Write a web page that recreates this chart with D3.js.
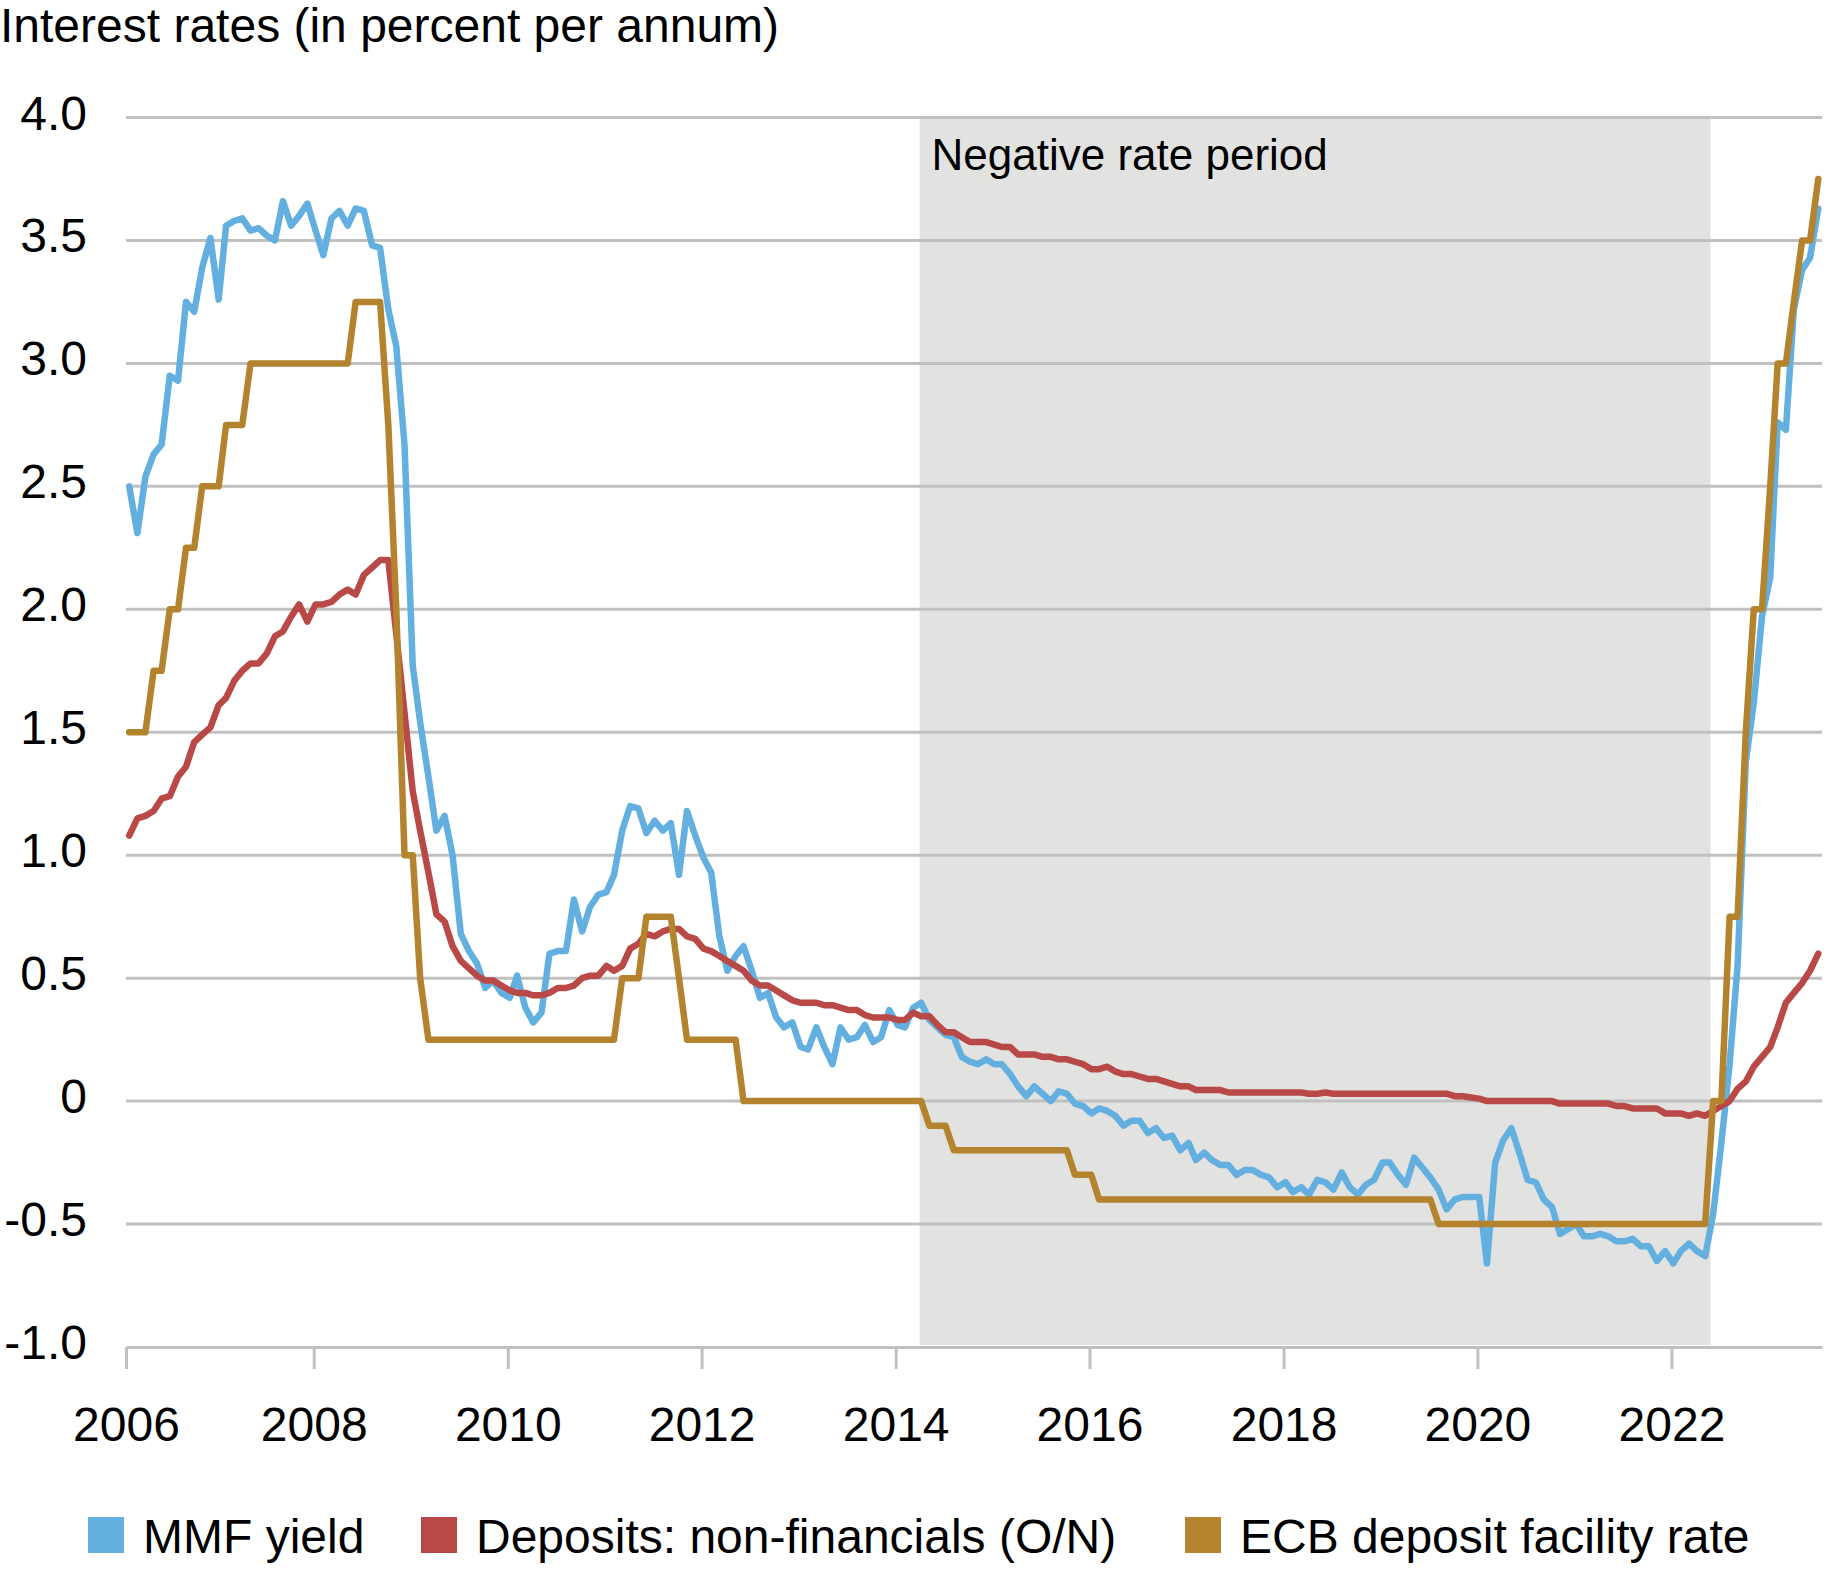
<!DOCTYPE html>
<html lang="en">

  <head>
    <meta charset="UTF-8">
    <title>Interest rates</title>
    <style>
      body {
        margin: 0;
        background-color: white;
      }

      text {
        font-family: "Liberation Sans", Arial, sans-serif;
        fill: black;
      }
    </style>
  </head>

  <body>
    <div id="my-div"></div>
    <script src="https://d3js.org/d3.v7.min.js"></script>
    <script>

      // monthly observations, March 2006 to August 2023
      var firstMonth = new Date(2006, 2, 1);
      var lastMonth = new Date(2023, 7, 1);

      // MMF yield, one row per calendar year
      var mmfYield = [
        2.50, 2.31, 2.54, 2.63, 2.67, 2.95, 2.93, 3.25, 3.21, 3.39,
        3.51, 3.26, 3.56, 3.58, 3.59, 3.54, 3.55, 3.52, 3.50, 3.66, 3.56, 3.60,
        3.65, 3.54, 3.44, 3.59, 3.62, 3.56, 3.63, 3.62, 3.48, 3.47, 3.22, 3.07,
        2.67, 1.77, 1.54, 1.32, 1.10, 1.16, 1.00, 0.68, 0.61, 0.56, 0.46, 0.49,
        0.44, 0.42, 0.51, 0.38, 0.32, 0.36, 0.60, 0.61, 0.61, 0.82, 0.69, 0.79,
        0.84, 0.85, 0.92, 1.10, 1.20, 1.19, 1.09, 1.14, 1.10, 1.13, 0.92, 1.18,
        1.08, 0.99, 0.93, 0.67, 0.53, 0.59, 0.63, 0.53, 0.42, 0.44, 0.34, 0.30,
        0.32, 0.22, 0.21, 0.30, 0.22, 0.15, 0.30, 0.25, 0.26, 0.31, 0.24, 0.26,
        0.37, 0.31, 0.30, 0.38, 0.40, 0.33, 0.30, 0.27, 0.26, 0.18, 0.16, 0.15,
        0.17, 0.15, 0.15, 0.11, 0.06, 0.02, 0.06, 0.03, 0.00, 0.04, 0.03, -0.01,
        -0.02, -0.05, -0.03, -0.04, -0.06, -0.10, -0.08, -0.08, -0.13, -0.11, -0.15, -0.14,
        -0.20, -0.17, -0.24, -0.21, -0.24, -0.26, -0.26, -0.30, -0.28, -0.28, -0.30, -0.31,
        -0.35, -0.33, -0.37, -0.35, -0.38, -0.32, -0.33, -0.36, -0.29, -0.35, -0.38, -0.34,
        -0.32, -0.25, -0.25, -0.30, -0.34, -0.23, -0.27, -0.31, -0.36, -0.44, -0.40, -0.39,
        -0.39, -0.39, -0.66, -0.25, -0.16, -0.11, -0.21, -0.32, -0.33, -0.40, -0.43, -0.54,
        -0.52, -0.50, -0.55, -0.55, -0.54, -0.55, -0.57, -0.57, -0.56, -0.59, -0.59, -0.65,
        -0.61, -0.66, -0.61, -0.58, -0.61, -0.63, -0.46, -0.17, 0.15, 0.55, 1.38, 1.62,
        1.97, 2.13, 2.76, 2.73, 3.22, 3.38, 3.43, 3.63
      ];

      // overnight deposits of non-financial corporations
      var depositsNonFin = [
        1.08, 1.15, 1.16, 1.18, 1.23, 1.24, 1.32, 1.36, 1.46, 1.49,
        1.52, 1.61, 1.64, 1.71, 1.75, 1.78, 1.78, 1.82, 1.89, 1.91, 1.97, 2.02,
        1.95, 2.02, 2.02, 2.03, 2.06, 2.08, 2.06, 2.14, 2.17, 2.20, 2.20, 1.90,
        1.58, 1.26, 1.10, 0.93, 0.76, 0.73, 0.63, 0.57, 0.54, 0.51, 0.49, 0.49,
        0.47, 0.45, 0.44, 0.44, 0.43, 0.43, 0.44, 0.46, 0.46, 0.47, 0.50, 0.51,
        0.51, 0.55, 0.53, 0.55, 0.62, 0.64, 0.68, 0.67, 0.69, 0.70, 0.70, 0.67,
        0.66, 0.62, 0.61, 0.59, 0.57, 0.55, 0.53, 0.49, 0.47, 0.47, 0.45, 0.43,
        0.41, 0.40, 0.40, 0.40, 0.39, 0.39, 0.38, 0.37, 0.37, 0.35, 0.34, 0.34,
        0.34, 0.33, 0.33, 0.36, 0.345, 0.345, 0.31, 0.28, 0.28, 0.26, 0.24, 0.24,
        0.24, 0.23, 0.22, 0.22, 0.19, 0.19, 0.19, 0.18, 0.18, 0.17, 0.17, 0.16,
        0.15, 0.13, 0.13, 0.14, 0.12, 0.11, 0.11, 0.10, 0.09, 0.09, 0.08, 0.07,
        0.06, 0.06, 0.045, 0.045, 0.045, 0.045, 0.035, 0.035, 0.035, 0.035, 0.035, 0.035,
        0.035, 0.035, 0.035, 0.035, 0.03, 0.03, 0.035, 0.03, 0.03, 0.03, 0.03, 0.03,
        0.03, 0.03, 0.03, 0.03, 0.03, 0.03, 0.03, 0.03, 0.03, 0.03, 0.02, 0.02,
        0.015, 0.01, 0.00, 0.00, 0.00, 0.00, 0.00, 0.00, 0.00, 0.00, 0.00, -0.01,
        -0.01, -0.01, -0.01, -0.01, -0.01, -0.01, -0.02, -0.02, -0.03, -0.03, -0.03, -0.03,
        -0.05, -0.05, -0.05, -0.06, -0.05, -0.06, -0.04, -0.02, 0.00, 0.05, 0.08, 0.14,
        0.18, 0.22, 0.30, 0.40, 0.44, 0.48, 0.53, 0.60
      ];

      // ECB deposit facility rate, end of month
      var ecbDepositRate = [
        1.50, 1.50, 1.50, 1.75, 1.75, 2.00, 2.00, 2.25, 2.25, 2.50,
        2.50, 2.50, 2.75, 2.75, 2.75, 3.00, 3.00, 3.00, 3.00, 3.00, 3.00, 3.00,
        3.00, 3.00, 3.00, 3.00, 3.00, 3.00, 3.25, 3.25, 3.25, 3.25, 2.75, 2.00,
        1.00, 1.00, 0.50, 0.25, 0.25, 0.25, 0.25, 0.25, 0.25, 0.25, 0.25, 0.25,
        0.25, 0.25, 0.25, 0.25, 0.25, 0.25, 0.25, 0.25, 0.25, 0.25, 0.25, 0.25,
        0.25, 0.25, 0.25, 0.50, 0.50, 0.50, 0.75, 0.75, 0.75, 0.75, 0.50, 0.25,
        0.25, 0.25, 0.25, 0.25, 0.25, 0.25, 0.00, 0.00, 0.00, 0.00, 0.00, 0.00,
        0.00, 0.00, 0.00, 0.00, 0.00, 0.00, 0.00, 0.00, 0.00, 0.00, 0.00, 0.00,
        0.00, 0.00, 0.00, 0.00, 0.00, -0.10, -0.10, -0.10, -0.20, -0.20, -0.20, -0.20,
        -0.20, -0.20, -0.20, -0.20, -0.20, -0.20, -0.20, -0.20, -0.20, -0.20, -0.20, -0.30,
        -0.30, -0.30, -0.40, -0.40, -0.40, -0.40, -0.40, -0.40, -0.40, -0.40, -0.40, -0.40,
        -0.40, -0.40, -0.40, -0.40, -0.40, -0.40, -0.40, -0.40, -0.40, -0.40, -0.40, -0.40,
        -0.40, -0.40, -0.40, -0.40, -0.40, -0.40, -0.40, -0.40, -0.40, -0.40, -0.40, -0.40,
        -0.40, -0.40, -0.40, -0.40, -0.40, -0.40, -0.40, -0.40, -0.50, -0.50, -0.50, -0.50,
        -0.50, -0.50, -0.50, -0.50, -0.50, -0.50, -0.50, -0.50, -0.50, -0.50, -0.50, -0.50,
        -0.50, -0.50, -0.50, -0.50, -0.50, -0.50, -0.50, -0.50, -0.50, -0.50, -0.50, -0.50,
        -0.50, -0.50, -0.50, -0.50, -0.50, -0.50, 0.00, 0.00, 0.75, 0.75, 1.50, 2.00,
        2.00, 2.50, 3.00, 3.00, 3.25, 3.50, 3.50, 3.75
      ];

      var seriesNames = ["MMF yield", "Deposits: non-financials (O/N)", "ECB deposit facility rate"];
      var seriesColors = ["#62afe0", "#b94947", "#b3832e"];

      var yTicks = [4, 3.5, 3, 2.5, 2, 1.5, 1, 0.5, 0, -0.5, -1];
      var tickYears = [2006, 2008, 2010, 2012, 2014, 2016, 2018, 2020, 2022];

      // shaded band, from the first negative rate to the first hike
      var negativePeriod = [new Date(2014, 3, 25), new Date(2022, 5, 21)];

      var width = 1840,
        height = 1570;

      var svg = d3.select("#my-div")
        .append("svg")
        .attr("width", width)
        .attr("height", height);

      svg.append("rect")
        .attr("width", width)
        .attr("height", height)
        .attr("fill", "white");

      var months = d3.timeMonth.range(firstMonth, d3.timeMonth.offset(lastMonth, 1));

      var x = d3.scaleTime()
        .domain([new Date(2006, 1, 17), new Date(2023, 7, 15)])
        .range([126, 1822]);

      var y = d3.scaleLinear()
        .domain([-1, 4])
        .range([1347, 117.5]);

      // title
      svg.append("text")
        .attr("x", 0)
        .attr("y", 42)
        .style("font-size", "48px")
        .text("Interest rates (in percent per annum)");

      // negative rate period band
      svg.append("rect")
        .attr("x", x(negativePeriod[0]))
        .attr("y", y(4))
        .attr("width", x(negativePeriod[1]) - x(negativePeriod[0]))
        .attr("height", y(-1) - y(4) - 2)
        .attr("fill", "#e2e2e1");

      svg.append("text")
        .attr("x", x(negativePeriod[0]) + 12)
        .attr("y", 170)
        .style("font-size", "44px")
        .text("Negative rate period");

      // horizontal grid
      svg.append("g")
        .selectAll("line")
        .data(yTicks.filter(function (d) { return d > -1; }))
        .enter()
        .append("line")
        .attr("x1", x.range()[0])
        .attr("x2", x.range()[1])
        .attr("y1", function (d) { return y(d); })
        .attr("y2", function (d) { return y(d); })
        .attr("stroke", "#c0c0c0")
        .attr("stroke-width", 3);

      // Y axis labels
      var yAxis = svg.append("g")
        .attr("transform", "translate(87,0)")
        .call(d3.axisLeft(y)
          .tickValues(yTicks)
          .tickSize(0)
          .tickPadding(0)
          .tickFormat(function (d) { return d === 0 ? "0" : d.toFixed(1); }));
      yAxis.select(".domain").remove();
      yAxis.selectAll("text")
        .attr("dy", "0.24em")
        .style("font-size", "48px")
        .style("font-family", "'Liberation Sans', Arial, sans-serif")
        .attr("fill", "black");

      // X axis
      var tickDates = tickYears.map(function (yr) {
        return d3.max([x.domain()[0], new Date(yr, 0, 25)]);
      });
      var xAxis = svg.append("g")
        .attr("transform", "translate(0," + y(-1) + ")")
        .call(d3.axisBottom(x)
          .tickValues(tickDates)
          .tickSizeInner(22)
          .tickSizeOuter(0)
          .tickPadding(38)
          .tickFormat(d3.timeFormat("%Y")));
      xAxis.select(".domain")
        .attr("stroke", "#c0c0c0")
        .attr("stroke-width", 3);
      xAxis.selectAll(".tick line")
        .attr("stroke", "#c0c0c0")
        .attr("stroke-width", 3);
      xAxis.selectAll("text")
        .style("font-size", "48px")
        .style("font-family", "'Liberation Sans', Arial, sans-serif")
        .attr("fill", "black");

      // lines
      var line = d3.line()
        .x(function (d) { return x(d.date); })
        .y(function (d) { return y(d.value); });

      [mmfYield, depositsNonFin, ecbDepositRate].forEach(function (values, i) {
        var data = months.map(function (m, k) { return { date: m, value: values[k] }; });
        svg.append("path")
          .datum(data)
          .attr("d", line)
          .attr("fill", "none")
          .attr("stroke", seriesColors[i])
          .attr("stroke-width", 6.5)
          .attr("stroke-linejoin", "round")
          .attr("stroke-linecap", "round");
      });

      // legend
      var legendX = [88, 421, 1185];
      var legend = svg.append("g")
        .selectAll("g")
        .data(seriesNames)
        .enter()
        .append("g")
        .attr("transform", function (d, i) { return "translate(" + legendX[i] + ",1517)"; });

      legend.append("rect")
        .attr("width", 36)
        .attr("height", 36)
        .attr("fill", function (d, i) { return seriesColors[i]; });

      legend.append("text")
        .attr("x", 55)
        .attr("y", 36)
        .style("font-size", "48px")
        .text(function (d) { return d; });

    </script>
  </body>

</html>
